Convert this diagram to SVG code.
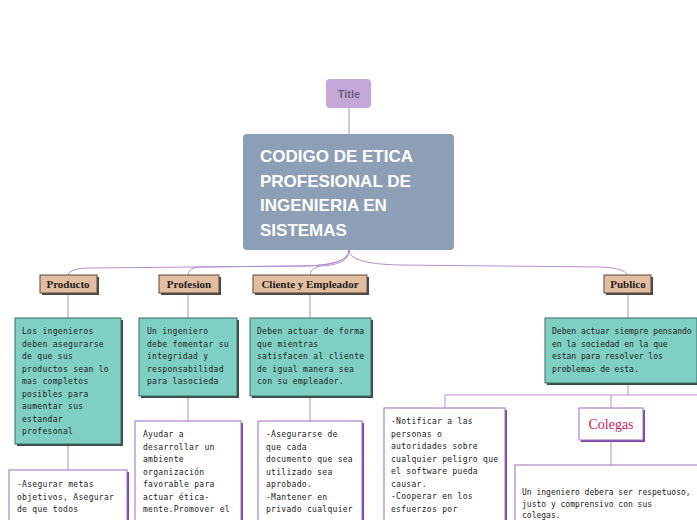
<svg xmlns="http://www.w3.org/2000/svg" width="697" height="520" viewBox="0 0 697 520">
<style>
.c{fill:none;stroke:#b48fd0;stroke-width:1}
.h{fill:#e2bd9f;stroke:#5a4a40;stroke-width:1}
.hs{fill:#4a4a4a}
.ht{font-family:"Liberation Serif",serif;font-weight:bold;font-size:11px;fill:#222;text-anchor:middle}
.t{fill:#7fcfc2;stroke:#3d6d66;stroke-width:1}
.ts{fill:#3a4a48}
.w{fill:#fff;stroke:#9a6cc0;stroke-width:1}
.ws{fill:#7a4aa8}
.m{font-family:"DejaVu Sans Mono",monospace;font-size:8px;letter-spacing:0.3px;fill:#222}
.n{letter-spacing:0}
</style>
<g id="connectors">
<path class="c" d="M349 108V134"/>
<path class="c" d="M349 250 Q349 266 300 266 L90 268 Q68 268 68 276"/>
<path class="c" d="M349 250 Q349 266 300 266 L200 267 Q188 267 188 276"/>
<path class="c" d="M349 250 Q349 265 320 266 Q310 268 310 276"/>
<path class="c" d="M349 250 Q349 264 400 265 L600 267 Q627 268 627 276"/>
<path class="c" d="M68 293V318M68 444V470M188 293V318M188 396V421M310 293V318M310 396V421M628 293V318"/>
<path class="c" d="M628 383V395M445 408V395H697M611 395V408M611 440V465"/>
</g>
<g id="title">
<rect x="326" y="79" width="45" height="29" rx="4" fill="#c4a8d8"/>
<text x="349" y="98" text-anchor="middle" font-family="Liberation Sans,sans-serif" font-weight="bold" font-size="11" fill="#6e6080">Title</text>
</g>
<g id="main">
<rect x="243" y="134" width="211" height="116" rx="4" fill="#8d9fb7"/>
<g font-family="Liberation Sans,sans-serif" font-weight="bold" font-size="17" fill="#fff">
<text x="260" y="162">CODIGO DE ETICA</text>
<text x="260" y="187">PROFESIONAL DE</text>
<text x="260" y="211">INGENIERIA EN</text>
<text x="260" y="236">SISTEMAS</text>
</g>
</g>
<g id="producto">
<rect class="hs" x="42" y="277" width="57" height="18"/><rect class="h" x="40" y="275" width="57" height="18"/>
<text class="ht" x="68" y="288">Producto</text>
</g>
<g id="profesion">
<rect class="hs" x="161" y="277" width="60" height="18"/><rect class="h" x="159" y="275" width="60" height="18"/>
<text class="ht" x="189" y="288">Profesion</text>
</g>
<g id="cliente">
<rect class="hs" x="255" y="277" width="114" height="18"/><rect class="h" x="253" y="275" width="114" height="18"/>
<text class="ht" x="310" y="288">Cliente y Empleador</text>
</g>
<g id="publico">
<rect class="hs" x="606" y="277" width="47" height="18"/><rect class="h" x="604" y="275" width="47" height="18"/>
<text class="ht" x="628" y="288">Publico</text>
</g>
<g id="producto-desc">
<rect class="ts" x="17" y="320" width="106" height="126"/><rect class="t" x="15" y="318" width="106" height="126"/>
<text class="m"><tspan x="22" y="334">Los ingenieros</tspan><tspan x="22" y="347">deben asegurarse</tspan><tspan x="22" y="359">de que sus</tspan><tspan x="22" y="372">productos sean lo</tspan><tspan x="22" y="384">mas completos</tspan><tspan x="22" y="397">posibles para</tspan><tspan x="22" y="409">aumentar sus</tspan><tspan x="22" y="422">estandar</tspan><tspan x="22" y="434">profesonal</tspan></text>
</g>
<g id="profesion-desc">
<rect class="ts" x="141" y="320" width="98" height="78"/><rect class="t" x="139" y="318" width="98" height="78"/>
<text class="m"><tspan x="147" y="334">Un ingeniero</tspan><tspan x="147" y="347">debe fomentar su</tspan><tspan x="147" y="359">integridad y</tspan><tspan x="147" y="372">responsabilidad</tspan><tspan x="147" y="384">para lasocieda</tspan></text>
</g>
<g id="cliente-desc">
<rect class="ts" x="252" y="320" width="121" height="78"/><rect class="t" x="250" y="318" width="121" height="78"/>
<text class="m"><tspan x="257" y="334">Deben actuar de forma</tspan><tspan x="257" y="347">que mientras</tspan><tspan x="257" y="359">satisfacen al cliente</tspan><tspan x="257" y="372">de igual manera sea</tspan><tspan x="257" y="384">con su empleador.</tspan></text>
</g>
<g id="publico-desc">
<rect class="ts" x="547" y="320" width="152" height="65"/><rect class="t" x="545" y="318" width="152" height="65"/>
<text class="m n"><tspan x="552" y="334">Deben actuar siempre pensando</tspan><tspan x="552" y="347">en la sociedad en la que</tspan><tspan x="552" y="359">estan para resolver los</tspan><tspan x="552" y="372">problemas de esta.</tspan></text>
</g>
<g id="producto-det">
<rect class="ws" x="11" y="472" width="118" height="60"/><rect class="w" x="9" y="470" width="118" height="60"/>
<text class="m"><tspan x="17" y="487">-Asegurar metas</tspan><tspan x="17" y="500">objetivos, Asegurar</tspan><tspan x="17" y="512">de que todos</tspan></text>
</g>
<g id="profesion-det">
<rect class="ws" x="137" y="423" width="106" height="110"/><rect class="w" x="135" y="421" width="106" height="110"/>
<text class="m"><tspan x="143" y="437">Ayudar a</tspan><tspan x="143" y="450">desarrollar un</tspan><tspan x="143" y="462">ambiente</tspan><tspan x="143" y="475">organización</tspan><tspan x="143" y="487">favorable para</tspan><tspan x="143" y="500">actuar ética-</tspan><tspan x="143" y="512">mente.Promover el</tspan></text>
</g>
<g id="cliente-det">
<rect class="ws" x="260" y="423" width="104" height="110"/><rect class="w" x="258" y="421" width="104" height="110"/>
<text class="m"><tspan x="266" y="437">-Asegurarse de</tspan><tspan x="266" y="450">que cada</tspan><tspan x="266" y="462">documento que sea</tspan><tspan x="266" y="475">utilizado sea</tspan><tspan x="266" y="487">aprobado.</tspan><tspan x="266" y="500">-Mantener en</tspan><tspan x="266" y="512">privado cualquier</tspan></text>
</g>
<g id="publico-det">
<rect class="ws" x="386" y="410" width="121" height="120"/><rect class="w" x="384" y="408" width="121" height="120"/>
<text class="m"><tspan x="391" y="424">-Notificar a las</tspan><tspan x="391" y="437">personas o</tspan><tspan x="391" y="449">autoridades sobre</tspan><tspan x="391" y="462">cualquier peligro que</tspan><tspan x="391" y="474">el software pueda</tspan><tspan x="391" y="487">causar.</tspan><tspan x="391" y="499">-Cooperar en los</tspan><tspan x="391" y="512">esfuerzos por</tspan></text>
</g>
<g id="colegas">
<rect class="ws" x="581" y="410" width="64" height="32"/><rect class="w" x="579" y="408" width="64" height="32"/>
<text x="611" y="429" text-anchor="middle" font-family="Liberation Serif,serif" font-size="14" fill="#d81b60">Colegas</text>
</g>
<g id="colegas-det">
<rect class="w" x="515" y="465" width="190" height="70"/>
<text class="m n"><tspan x="522" y="495">Un ingeniero debera ser respetuoso,</tspan><tspan x="522" y="507">justo y comprensivo con sus</tspan><tspan x="522" y="518">colegas.</tspan></text>
</g>
</svg>
